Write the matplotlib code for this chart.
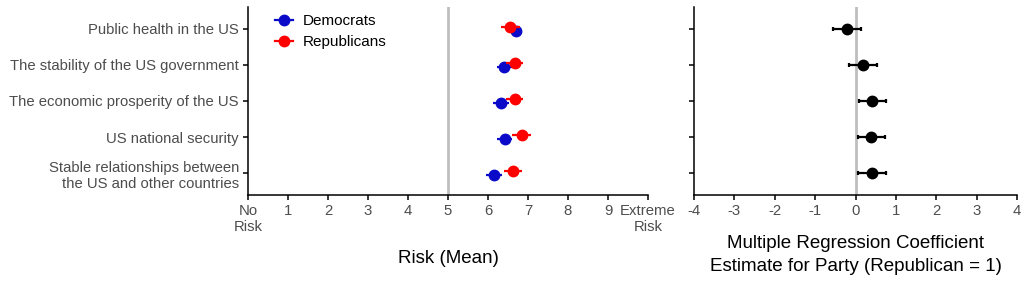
import numpy as np
import matplotlib
matplotlib.use("Agg")
import matplotlib.pyplot as plt
from matplotlib.lines import Line2D

plt.rcParams['font.family'] = ['Liberation Sans', 'DejaVu Sans']

categories = [
    "Public health in the US",
    "The stability of the US government",
    "The economic prosperity of the US",
    "US national security",
    "Stable relationships between\nthe US and other countries",
]

dem_mean = [6.69, 6.41, 6.33, 6.42, 6.14]
dem_ci = [0.17, 0.19, 0.20, 0.19, 0.20]
rep_mean = [6.56, 6.67, 6.67, 6.84, 6.62]
rep_ci = [0.24, 0.21, 0.21, 0.23, 0.22]

coef = [-0.22, 0.18, 0.42, 0.39, 0.40]
coef_lo = [-0.56, -0.15, 0.09, 0.07, 0.07]
coef_hi = [0.14, 0.54, 0.76, 0.74, 0.75]

risk_ticks = list(range(11))
risk_labels = ["No\nRisk"] + [str(i) for i in range(1, 10)] + ["Extreme\nRisk"]
coef_ticks = list(range(-4, 5))

blue = "#0A0AC8"
red = "#FF0000"
grey_txt = "#4D4D4D"
ref_col = "#BEBEBE"

y = np.arange(1, len(categories) + 1)
dodge = 0.055

fig = plt.figure(figsize=(10.24, 2.84), dpi=100)
ax1 = fig.add_axes([248 / 1024, 1 - 195 / 284, 400 / 1024, 188 / 284])
ax2 = fig.add_axes([694 / 1024, 1 - 195 / 284, 323 / 1024, 188 / 284])

# left panel: group means
ax1.axvline(5, color=ref_col, lw=2, zorder=1)
ax1.errorbar(dem_mean, y + dodge, xerr=dem_ci, fmt='o', color=blue, ms=7.5,
             elinewidth=1.6, capsize=0, zorder=3)
ax1.errorbar(rep_mean, y - dodge, xerr=rep_ci, fmt='o', color=red, ms=7.5,
             elinewidth=1.6, capsize=0, zorder=4)
ax1.set_xlim(0, 10)
ax1.set_ylim(5.6, 0.4)
ax1.set_yticks(y)
ax1.set_yticklabels(categories, color=grey_txt, fontsize=10.7)
ax1.set_xticks(risk_ticks)
ax1.set_xticklabels(risk_labels, color=grey_txt, fontsize=10.7, multialignment='center')
ax1.set_xlabel("Risk (Mean)", fontsize=13.5, labelpad=11)

handles = [
    Line2D([], [], color=blue, marker='o', ms=7.5, lw=1.6),
    Line2D([], [], color=red, marker='o', ms=7.5, lw=1.6),
]
ax1.legend(handles, ["Democrats", "Republicans"], loc='upper left',
           bbox_to_anchor=(0.033, 1.035), frameon=False, fontsize=11,
           handlelength=1.2, handletextpad=0.6, labelspacing=0.45)

# right panel: regression coefficient
ax2.axvline(0, color=ref_col, lw=2, zorder=1)
xerr = [np.array(coef) - np.array(coef_lo), np.array(coef_hi) - np.array(coef)]
ax2.errorbar(coef, y, xerr=xerr, fmt='o', color='black', ms=7.5,
             elinewidth=1.6, capsize=1.5, capthick=1.6, zorder=3)
ax2.set_xlim(-4, 4)
ax2.set_ylim(5.6, 0.4)
ax2.set_yticks(y)
ax2.set_yticklabels([])
ax2.set_xticks(coef_ticks)
ax2.set_xticklabels([str(t) for t in coef_ticks], color=grey_txt, fontsize=10.7)
ax2.set_xlabel("Multiple Regression Coefficient\nEstimate for Party (Republican = 1)",
               fontsize=13.5, labelpad=12, linespacing=1.45)

for ax in (ax1, ax2):
    for s in ('top', 'right'):
        ax.spines[s].set_visible(False)
    for s in ('left', 'bottom'):
        ax.spines[s].set_linewidth(1.1)
    ax.tick_params(length=3.5, width=1.1, pad=3)

fig.savefig("out.png", dpi=100)
